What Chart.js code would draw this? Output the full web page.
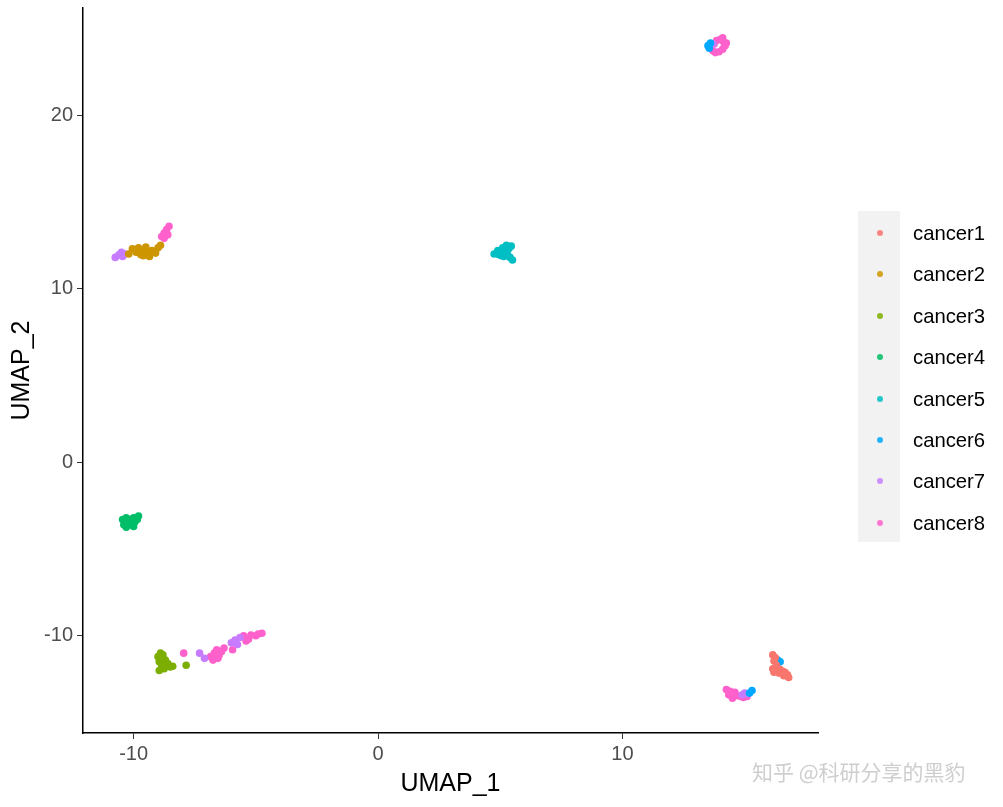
<!DOCTYPE html>
<html>
<head>
<meta charset="utf-8">
<script src="https://cdn.jsdelivr.net/npm/chart.js@4/dist/chart.umd.min.js"></script>
<style>
  body { margin: 0; background: #ffffff; font-family: "Liberation Sans", Arial, sans-serif; }
  #wrap { position: relative; width: 1003px; height: 807px; overflow: hidden; }
  #legend { position: absolute; left: 858px; top: 211px; width: 42px; height: 331px; background: #f2f2f2; }
  .row { position: absolute; left: 0; height: 24px; }
  .dot { position: absolute; left: 19px; top: 9px; width: 6px; height: 6px; border-radius: 50%; opacity: 0.85; }
  .lab { position: absolute; left: 55px; top: 0; font-size: 20.3px; line-height: 24px; color: #000; white-space: nowrap; }
  #mark { position: absolute; left: 752px; top: 756px; font-size: 21px; color: rgba(165,165,165,0.55); font-family: "Noto Sans CJK SC", sans-serif; white-space: nowrap; }
</style>
</head>
<body>
<div id="wrap">
  <canvas id="myChart" width="1003" height="807"></canvas>
  <div id="legend"></div>
  <div id="mark">知乎 @科研分享的黑豹</div>
</div>
<script>
// groups and colours (ggplot default hues)
const groups = ["cancer1", "cancer2", "cancer3", "cancer4", "cancer5", "cancer6", "cancer7", "cancer8"];
const colors = ["#F8766D", "#CD9600", "#7CAE00", "#00BE67", "#00BFC4", "#00A9FF", "#C77CFF", "#FF61CC"];

// axis ticks
const xTicks = [-10, 0, 10];
const yTicks = [-10, 0, 10, 20];

// UMAP coordinates, [UMAP_1, UMAP_2]
const cancer1 = [[16.15,-11.1],[16.25,-11.25],[16.2,-11.45],[16.3,-11.7],[16.15,-11.9],[16.3,-12.0],[16.45,-11.95],
  [16.55,-12.05],[16.65,-12.1],[16.75,-12.25],[16.6,-12.3],[16.8,-12.4],[16.4,-12.15],[16.2,-12.1]];
const cancer2 = [[-10.2,12.0],[-10.05,12.3],[-9.9,12.1],[-9.8,12.35],[-9.65,12.2],[-9.6,11.9],[-9.45,12.1],
  [-9.35,11.85],[-9.25,12.2],[-9.1,12.05],[-9.0,12.35],[-8.9,12.5],[-9.5,12.4],[-9.7,11.95]];
const cancer3 = [[-9.0,-11.2],[-8.9,-11.0],[-8.8,-11.1],[-8.95,-11.5],[-8.85,-11.7],[-8.7,-11.4],[-8.6,-11.6],
  [-8.75,-11.9],[-8.95,-12.0],[-8.5,-11.8],[-8.4,-11.75],[-7.85,-11.7]];
const cancer4 = [[-10.45,-3.3],[-10.3,-3.2],[-10.15,-3.3],[-10.0,-3.2],[-9.8,-3.1],[-10.4,-3.6],[-10.25,-3.5],
  [-10.1,-3.6],[-9.95,-3.45],[-10.3,-3.75],[-10.0,-3.7],[-9.85,-3.3]];
const cancer5 = [[4.75,12.0],[4.9,12.2],[5.0,12.1],[5.1,12.35],[5.25,12.5],[5.35,12.3],[5.2,12.1],[5.05,11.9],
  [5.3,11.95],[5.4,11.8],[5.5,11.65],[5.45,12.45],[5.15,11.85],[4.95,11.95]];
const cancer6 = [[16.35,-11.4],[16.45,-11.5],[15.3,-13.15],[15.2,-13.3],[13.5,24.0],[13.55,23.85],[13.6,24.15]];
const cancer7 = [[-10.75,11.8],[-10.6,11.95],[-10.5,12.1],[-10.45,11.85],[-10.35,12.0],
  [-7.3,-11.0],[-7.1,-11.3],[-6.0,-10.4],[-5.85,-10.25],[-5.75,-10.5],[-5.65,-10.1],
  [13.7,24.1],[14.9,-13.4],[15.0,-13.3],[15.1,-13.35]];
const cancer8 = [[-8.85,13.0],[-8.75,13.2],[-8.65,13.4],[-8.55,13.6],[-8.75,12.9],[-8.6,13.1],
  [-7.95,-11.0],[-6.85,-11.2],[-6.7,-11.0],[-6.6,-10.8],[-6.5,-11.1],[-6.4,-10.9],[-6.3,-10.7],[-6.75,-11.4],
  [-6.55,-11.3],[-5.95,-10.8],[-5.5,-10.0],[-5.3,-10.2],[-5.2,-9.95],[-5.0,-10.0],[-4.9,-9.9],[-4.75,-9.85],[-5.4,-10.3],
  [13.7,23.7],[13.8,23.6],[13.95,23.65],[14.1,23.8],[14.2,24.0],[14.15,24.2],[14.0,24.35],[13.85,24.3],[13.75,24.1],
  [14.25,24.15],[14.1,24.45],
  [14.25,-13.1],[14.4,-13.2],[14.5,-13.35],[14.6,-13.25],[14.7,-13.45],[14.85,-13.5],[14.5,-13.6],[14.35,-13.4],
  [14.95,-13.55],[15.1,-13.5]];

const allPoints = [cancer1, cancer2, cancer3, cancer4, cancer5, cancer6, cancer7, cancer8];

const datasets = groups.map(function(g, i) {
  return {
    label: g,
    data: allPoints[i].map(p => ({x: p[0], y: p[1]})),
    backgroundColor: colors[i],
    borderWidth: 0,
    pointRadius: 3.8,
    pointHoverRadius: 3.8
  };
});

// html legend
const legend = document.getElementById("legend");
groups.forEach(function(g, i) {
  const row = document.createElement("div");
  row.className = "row";
  row.style.top = (10 + i * 41.4) + "px";
  row.innerHTML = '<span class="dot" style="background:' + colors[i] + '"></span><span class="lab">' + g + '</span>';
  legend.appendChild(row);
});

const tickFont = {family: "Liberation Sans", size: 20};
const titleFont = {family: "Liberation Sans", size: 25};

function noPad(scale) {
  scale.paddingTop = 0; scale.paddingBottom = 0;
  scale.paddingLeft = 0; scale.paddingRight = 0;
}

new Chart(document.getElementById("myChart"), {
  type: "scatter",
  data: {datasets: datasets},
  options: {
    responsive: false,
    animation: false,
    layout: {padding: {left: 0, right: 185, top: 8, bottom: 0}},
    plugins: {legend: {display: false}, tooltip: {enabled: false}},
    scales: {
      x: {
        min: -12.07, max: 18.0,
        afterBuildTicks: function(scale) { scale.ticks = xTicks.map(v => ({value: v})); },
        afterFit: function(scale) { scale.height = 74; noPad(scale); },
        ticks: {color: "#4d4d4d", font: tickFont, padding: 3},
        grid: {drawOnChartArea: false, drawTicks: true, tickLength: 6, color: "#333333"},
        border: {display: true, color: "#000000", width: 1.5},
        title: {display: true, text: "UMAP_1", color: "#000000", font: titleFont, padding: {top: 0, bottom: 8}}
      },
      y: {
        min: -15.6, max: 26.17,
        afterBuildTicks: function(scale) { scale.ticks = yTicks.map(v => ({value: v})); },
        afterFit: function(scale) { scale.width = 83; noPad(scale); },
        ticks: {color: "#4d4d4d", font: tickFont, padding: 4},
        grid: {drawOnChartArea: false, drawTicks: true, tickLength: 6, color: "#333333"},
        border: {display: true, color: "#000000", width: 1.5},
        title: {display: true, text: "UMAP_2", color: "#000000", font: titleFont, padding: {top: 7, bottom: 0}}
      }
    }
  }
});
</script>
</body>
</html>
